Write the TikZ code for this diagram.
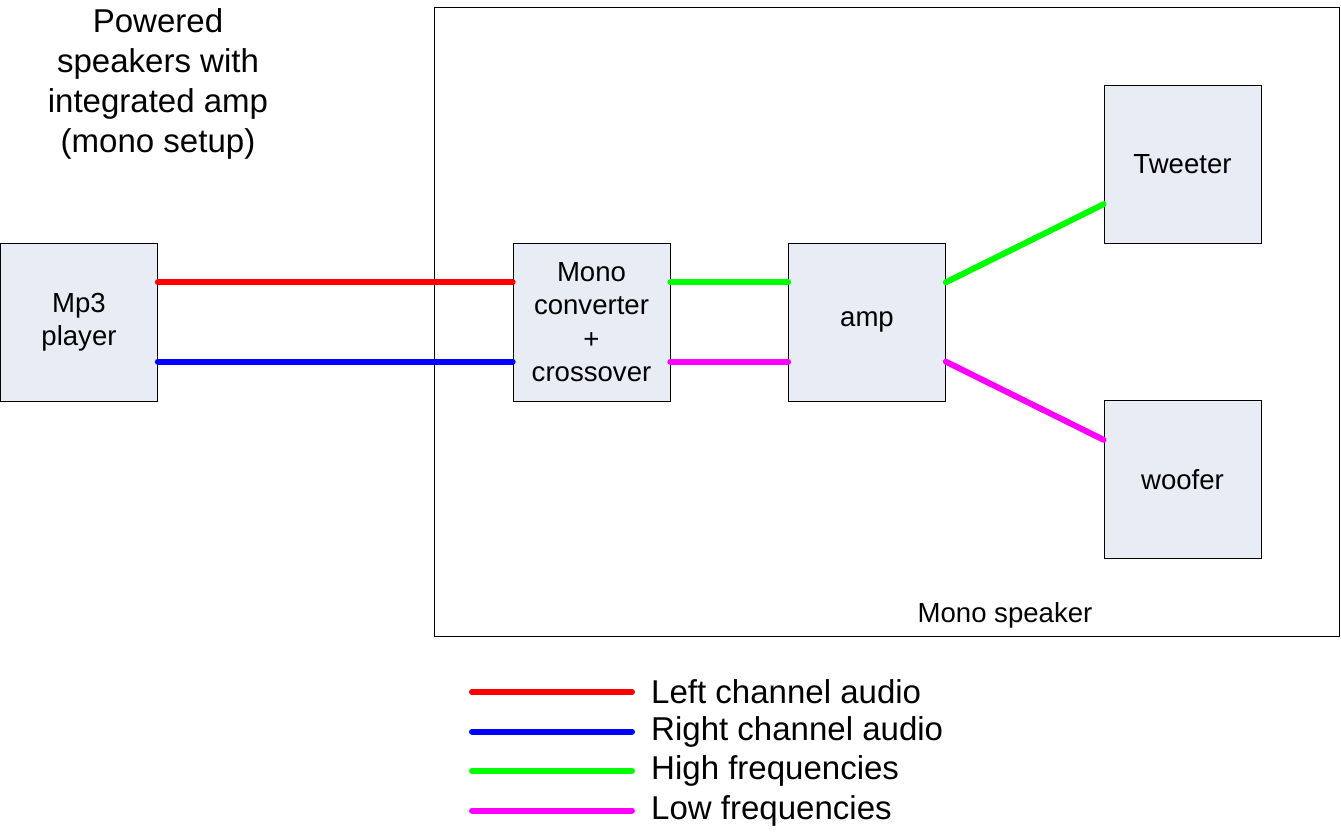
\documentclass[tikz,border=0pt]{standalone}
\usepackage{fontspec}
\setmainfont{Liberation Sans}
\usetikzlibrary{calc,positioning}
\definecolor{boxfill}{RGB}{232,236,244}
\definecolor{wirered}{RGB}{255,0,0}
\definecolor{wireblue}{RGB}{0,0,255}
\definecolor{wiregreen}{RGB}{0,255,0}
\definecolor{wiremagenta}{RGB}{255,0,255}
\tikzset{
	block/.style={draw, fill=boxfill, minimum width=157*0.02cm, minimum height=158*0.02cm,
		inner sep=0pt, align=center, font=\fontsize{15.7}{19}\selectfont},
	wire/.style={line width=3.4pt, line cap=round},
	legtext/.style={anchor=west, font=\fontsize{18.8}{22}\selectfont}
}
\begin{document}
\begin{tikzpicture}[x=0.02cm, y=-0.02cm]
	\useasboundingbox (0,0) rectangle (1341,836);
	\node[align=center, font=\fontsize{18.8}{22.8}\selectfont] (title) at (158,84) {Powered\\speakers with\\integrated amp\\(mono setup)};
	\node[draw, minimum width=905*0.02cm, minimum height=629*0.02cm] (speaker) at (886.5,321.5) {};
	\node[anchor=center, font=\fontsize{15.7}{19}\selectfont] (spklabel) at (1005,615) {Mono speaker};
	\node[block] (mp3) at (79,322) {Mp3\\player};
	\node[block] (mono) at (591.5,322) {Mono\\converter\\+\\crossover};
	\node[block] (amp) at (867,322) {amp};
	\node[block] (tweeter) at (1182.5,164.5) {Tweeter};
	\node[block] (woofer) at (1182.5,479.5) {woofer};
	% connections
	\draw[wire, wirered] ($(mp3.north east)!0.25!(mp3.south east)$) -- ($(mono.north west)!0.25!(mono.south west)$);
	\draw[wire, wireblue] ($(mp3.north east)!0.75!(mp3.south east)$) -- ($(mono.north west)!0.75!(mono.south west)$);
	\draw[wire, wiregreen] ($(mono.north east)!0.25!(mono.south east)$) -- ($(amp.north west)!0.25!(amp.south west)$);
	\draw[wire, wiremagenta] ($(mono.north east)!0.75!(mono.south east)$) -- ($(amp.north west)!0.75!(amp.south west)$);
	\draw[wire, wiregreen] ($(amp.north east)!0.25!(amp.south east)$) -- ($(tweeter.north west)!0.75!(tweeter.south west)$);
	\draw[wire, wiremagenta] ($(amp.north east)!0.75!(amp.south east)$) -- ($(woofer.north west)!0.25!(woofer.south west)$);
	% legend
	\foreach \col/\txt [count=\i] in {wirered/Left channel audio, wireblue/Right channel audio,
		wiregreen/High frequencies, wiremagenta/Low frequencies} {
		\coordinate (leg\i) at (472,{652.5+39.5*\i});
		\coordinate (legend\i) at (632,{652.5+39.5*\i});
		\draw[wire, \col] (leg\i) -- (legend\i);
		\node[legtext] (legtxt\i) at (645,{652.5+39.5*\i}) {\txt};
	}
\end{tikzpicture}
\end{document}
